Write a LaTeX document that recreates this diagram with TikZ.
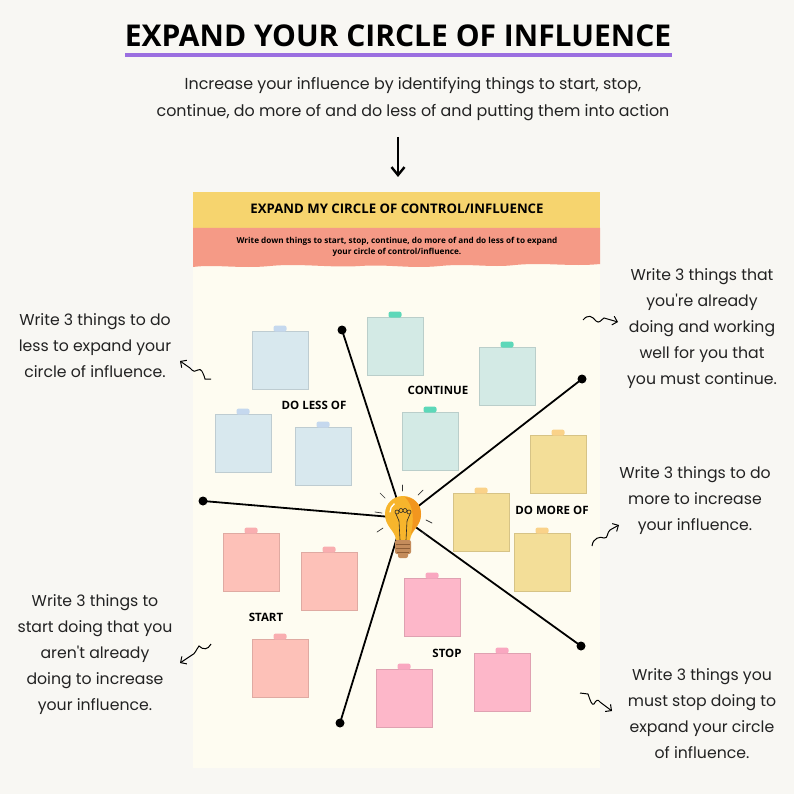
\documentclass[tikz,border=0pt]{standalone}
\usepackage{fontspec}
\setmainfont{Open Sans}
\newfontfamily\popfont{Poppins}
\usetikzlibrary{arrows.meta}
\definecolor{bg}{HTML}{F8F7F3}
\definecolor{panel}{HTML}{FEFCF1}
\definecolor{hdr}{HTML}{F6D46E}
\definecolor{band}{HTML}{F59A86}
\definecolor{uline}{HTML}{9B6FE0}
\definecolor{txt}{HTML}{222222}
\definecolor{nblue}{HTML}{D8E8EE}\definecolor{tblue}{HTML}{C5D8EE}
\definecolor{nteal}{HTML}{D3EAE5}\definecolor{tteal}{HTML}{5DD8B9}
\definecolor{nyel}{HTML}{F3DE98}\definecolor{tyel}{HTML}{FAD289}
\definecolor{nsal}{HTML}{FDC1B8}\definecolor{tsal}{HTML}{F9AEB0}
\definecolor{npink}{HTML}{FDB7C9}\definecolor{tpink}{HTML}{F9A7C0}
\definecolor{bulbA}{HTML}{F7B52C}\definecolor{bulbB}{HTML}{F2961F}
\definecolor{bbase}{HTML}{C48C5C}\definecolor{bbaseD}{HTML}{8E5E37}
\newcommand\sticky[5]{%
  \node[note, fill=#4, draw=#4!88!black] (#1) at (#2,#3) {};
  \node[tab, fill=#5, anchor=south] (#1t) at ([yshift=-1pt]#1.north) {};}
\begin{document}
\begin{tikzpicture}[x=1pt,y=-1pt,
  note/.style={minimum width=56pt, minimum height=58pt, inner sep=0pt, line width=0.4pt},
  tab/.style={minimum width=13pt, minimum height=6pt, inner sep=0pt, rounded corners=2pt},
  dot/.style={circle, fill=black, minimum size=9pt, inner sep=0pt},
  spoke/.style={line width=1.8pt, black},
  ray/.style={line width=0.7pt, black!80, line cap=round},
  side/.style={font=\popfont\fontsize{15.7}{26}\selectfont, align=center, text=txt},
  lab/.style={font=\bfseries\fontsize{11.5}{13}\selectfont, text=black},
  squig/.style={line width=1pt, black, -{Straight Barb[length=4.5pt,width=9pt]}},
]
\fill[bg] (0,0) rectangle (794,794);
\useasboundingbox (0,0) rectangle (794,794);

% title
\node[font=\bfseries\fontsize{30}{32}\selectfont, text=black] (title) at (398,36) {EXPAND YOUR CIRCLE OF INFLUENCE};
\draw[uline, line width=3.5pt] (125,55) -- (672,55);
\node[side, font=\popfont\fontsize{15.9}{27}\selectfont] (sub) at (413,99) {Increase your influence by identifying things to start, stop,\\continue, do more of and do less of and putting them into action};
\coordinate (a1) at (398,137);
\coordinate (a2) at (398,177);
\draw[line width=2.4pt, -{Straight Barb[length=8pt,width=13pt]}] (a1) -- (a2);

% panel
\fill[panel] (193,192) rectangle (600,768);
\fill[hdr] (193,192) rectangle (600,229);
\fill[band] (193,228) -- (600,228) -- (600,264)
  .. controls (570,267) and (545,262) .. (515,265)
  .. controls (490,268) and (470,263) .. (440,266)
  .. controls (410,269) and (390,264) .. (360,266)
  .. controls (330,268) and (300,263) .. (270,266)
  .. controls (240,269) and (215,264) .. (193,267) -- cycle;
\node[font=\bfseries\fontsize{13.2}{15}\selectfont] (head) at (397,209) {EXPAND MY CIRCLE OF CONTROL/INFLUENCE};
\node[font=\bfseries\fontsize{8.2}{11.5}\selectfont, align=center] (headsub) at (397,247) {Write down things to start, stop, continue, do more of and do less of to expand\\your circle of control/influence.};

% spokes
\coordinate (c) at (403,518);
\node[dot] (d1) at (342,330) {};
\node[dot] (d2) at (582,379) {};
\node[dot] (d3) at (203,501) {};
\node[dot] (d4) at (581,646) {};
\node[dot] (d5) at (340,723) {};
\foreach \d in {d1,d2,d3,d4,d5} \draw[spoke] (\d.center) -- (c);

% sticky notes
\sticky{b1}{280}{360}{nblue}{tblue}
\sticky{b2}{243}{443}{nblue}{tblue}
\sticky{b3}{323}{456}{nblue}{tblue}
\sticky{t1}{395}{346}{nteal}{tteal}
\sticky{t2}{507}{376}{nteal}{tteal}
\sticky{t3}{430}{441}{nteal}{tteal}
\sticky{y1}{558}{464}{nyel}{tyel}
\sticky{y2}{481}{522}{nyel}{tyel}
\sticky{y3}{542}{562}{nyel}{tyel}
\sticky{s1}{251}{562}{nsal}{tsal}
\sticky{s2}{329}{581}{nsal}{tsal}
\sticky{s3}{280}{668}{nsal}{tsal}
\sticky{p1}{432}{607}{npink}{tpink}
\sticky{p2}{502}{682}{npink}{tpink}
\sticky{p3}{404}{698}{npink}{tpink}

% labels
\node[lab] (lcont) at (438,390) {CONTINUE};
\node[lab] (lless) at (314,405) {DO LESS OF};
\node[lab] (lmore) at (552,510) {DO MORE OF};
\node[lab] (lstart) at (266,617) {START};
\node[lab] (lstop) at (447,653) {STOP};

% bulb
\draw[ray] (380,493) -- (385,498);
\draw[ray] (402,485) -- (402,491);
\draw[ray] (418,495) -- (423,490);
\draw[ray] (375,512) -- (382,513);
\draw[ray] (377,532) -- (383,528);
\draw[ray] (426,520) -- (432,523);
\draw[ray] (422,532) -- (426,535);
\fill[bulbA] (396,540) .. controls (395,530) and (385,527) .. (385,514)
  arc[start angle=180, end angle=360, radius=18]
  .. controls (421,527) and (411,530) .. (410,540) -- cycle;
\fill[bulbB] (405,497) .. controls (418,498) and (421,508) .. (421,514)
  .. controls (421,524) and (414,528) .. (411,534)
  .. controls (414,520) and (414,506) .. (405,497) -- cycle;
\draw[white, line width=1.3pt, line cap=round] (390,512) arc[start angle=180, end angle=235, radius=10];
\draw[black!85, line width=0.6pt] (400,540) -- (399,521) -- (396,514) (406,540) -- (407,521) -- (410,514);
\draw[black!85, line width=0.6pt] (397,512) circle[radius=2] (401,510.5) circle[radius=2] (405,510.5) circle[radius=2] (409,512) circle[radius=2];
\fill[bbase, rounded corners=2pt] (395,540) rectangle (411,554);
\fill[bbase, rounded corners=2pt] (398,552) rectangle (408,558);
\draw[bbaseD, line width=0.6pt] (396,544) -- (410,544) (396,548) -- (410,548) (397,552) -- (409,552);

% side texts
\node[side] (rt) at (702,329) {Write 3 things that\\you're already\\doing and working\\well for you that\\you must continue.};
\node[side] (rm) at (695,501) {Write 3 things to do\\more to increase\\your influence.};
\node[side] (rb) at (702,714) {Write 3 things you\\must stop doing to\\expand your circle\\of influence.};
\node[side] (lt) at (95,346) {Write 3 things to do\\less to expand your\\circle of influence.};
\node[side] (lb) at (95,655) {Write 3 things to\\start doing that you\\aren't already\\doing to increase\\your influence.};

% squiggle arrows
\coordinate (q1a) at (211,379); \coordinate (q1b) at (180,361);
\draw[squig] (q1a) -- (205,379) .. controls (203,372) and (201,368) .. (198,370)
  .. controls (196,372) and (193,372) .. (190,368) -- (q1b);
\coordinate (q2a) at (583,320); \coordinate (q2b) at (618,322);
\draw[squig] (q2a) .. controls (588,314) and (592,316) .. (596,321)
  .. controls (599,324) and (601,320) .. (604,318) -- (q2b);
\coordinate (q3a) at (592,546); \coordinate (q3b) at (619,525);
\draw[squig] (q3a) .. controls (593,538) and (600,536) .. (604,538)
  .. controls (608,539) and (607,532) .. (610,530) -- (q3b);
\coordinate (q4a) at (580,693); \coordinate (q4b) at (612,711);
\draw[squig] (q4a) -- (588,694) .. controls (590,700) and (592,706) .. (594,704)
  .. controls (596,700) and (598,699) .. (600,702) -- (q4b);
\coordinate (q5a) at (211,644); \coordinate (q5b) at (180,663);
\draw[squig] (q5a) .. controls (208,650) and (203,650) .. (199,646)
  .. controls (196,650) and (195,654) .. (192,655) -- (q5b);
\end{tikzpicture}
\end{document}
